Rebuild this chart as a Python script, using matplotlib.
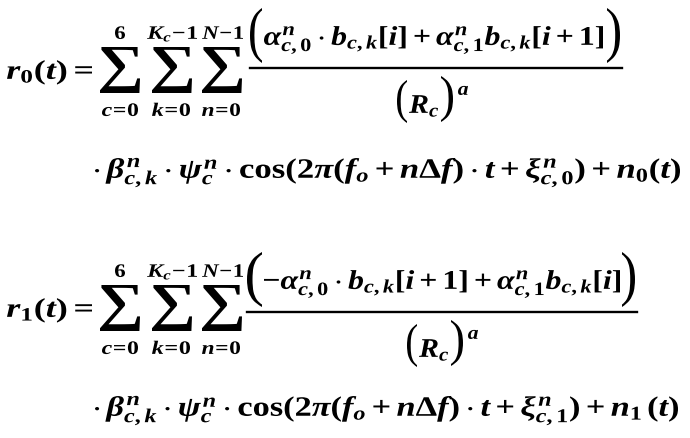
import matplotlib
matplotlib.use('Agg')
import matplotlib.pyplot as plt
from matplotlib.textpath import TextPath
from matplotlib.patches import PathPatch
from matplotlib.font_manager import FontProperties
from matplotlib.transforms import Affine2D
from matplotlib.lines import Line2D

plt.rcParams['mathtext.fontset'] = 'custom'
plt.rcParams['mathtext.rm'] = 'Liberation Serif:bold'
plt.rcParams['mathtext.it'] = 'Liberation Serif:italic:bold'
plt.rcParams['mathtext.bf'] = 'Liberation Serif:bold'
plt.rcParams['mathtext.fallback'] = 'stix'

W, H = 690, 438
lhs = [r'$r_0(t)=$', r'$r_1(t)=$']
upper = [r'$6$', r'$K_c\!-\!1$', r'$N\!-\!1$']
lower = [r'$c\!=\!0$', r'$k\!=\!0$', r'$n\!=\!0$']
numer = [r'$\alpha^n_{c,0}\cdot b_{c,k}[i]+\alpha^n_{c,1}b_{c,k}[i+1]$',
         r'$-\alpha^n_{c,0}\cdot b_{c,k}[i+1]+\alpha^n_{c,1}b_{c,k}[i]$']
denom = r'$R_c$'
power = r'$a$'
tail = [r'$\cdot\,\beta^n_{c,k}\cdot\psi^n_c\cdot\cos(2\pi(f_o+n\Delta f)\cdot t+\xi^n_{c,0})+n_0(t)$',
        r'$\cdot\,\beta^n_{c,k}\cdot\psi^n_c\cdot\cos(2\pi(f_o+n\Delta f)\cdot t+\xi^n_{c,1})+n_1\,(t)$']

fig = plt.figure(figsize=(6.9, 4.38), dpi=100)
fig.patch.set_facecolor('white')
# pixel coords, y from top
pix = Affine2D().scale(1.0 / W, -1.0 / H).translate(0, 1) + fig.transFigure
fp = FontProperties(family='Liberation Serif', weight='bold')
fp_reg = FontProperties(family='Liberation Serif')


def put(s, x0, x1, y, size):
    # text stretched to span x0..x1 on baseline y
    tp = TextPath((0, 0), s, size=size, prop=fp)
    ext = tp.get_extents()
    sx = (x1 - x0) / ext.width
    tr = Affine2D().translate(-ext.x0, 0).scale(sx, -1).translate(x0, y) + pix
    fig.add_artist(PathPatch(tp, transform=tr, fc='black', ec='none'))


def fit(s, x0, x1, y0, y1, prop):
    tp = TextPath((0, 0), s, size=50, prop=prop)
    ext = tp.get_extents()
    sx = (x1 - x0) / ext.width
    sy = (y1 - y0) / ext.height
    tr = (Affine2D().translate(-ext.x0, -ext.y1).scale(sx, -sy)
          .translate(x0, y0) + pix)
    fig.add_artist(PathPatch(tp, transform=tr, fc='black', ec='none'))


S = 27
s_small = 19
sum_x = [(100, 140), (152, 192), (202, 242)]
up_x = [(115, 125), (147, 197), (202, 243)]
low_x = [(102, 138), (152, 190), (202, 240)]
num_l = [(250, 262), (247, 262)]
num_txt = [(264, 603), (264, 620)]
num_r = [(607, 620), (622, 635)]
bar_x = [(250, 622), (247, 637)]
den_shift = [0, 10]
tail_x = [(95, 680), (95, 678)]

for j in range(2):
    d = 238 * j
    f = 244 * j
    put(lhs[j], 7, 92, 79 + d, S)
    for k in range(3):
        fit(r'$\sum$', sum_x[k][0], sum_x[k][1], 47 + d, 93 + d, fp)
        put(upper[k], up_x[k][0], up_x[k][1], 39 + d, s_small)
        put(lower[k], low_x[k][0], low_x[k][1], 116 + d, s_small)
    # numerator with tall parentheses
    fit('(', num_l[j][0], num_l[j][1], 8 + f, 63 + f, fp_reg)
    put(numer[j], num_txt[j][0], num_txt[j][1], 45 + f, S)
    fit(')', num_r[j][0], num_r[j][1], 8 + f, 63 + f, fp_reg)
    fig.add_artist(Line2D(bar_x[j], [68 + f, 68 + f],
                          transform=pix, color='black', lw=1.7))
    # denominator
    g = den_shift[j]
    fit('(', 397 + g, 407 + g, 80 + f, 123 + f, fp_reg)
    put(denom, 409 + g, 438 + g, 113 + f, S)
    fit(')', 441 + g, 453 + g, 76 + f, 122 + f, fp_reg)
    put(power, 458 + g, 468 + g, 95 + f, s_small)
    put(tail[j], tail_x[j][0], tail_x[j][1], 178 + d, 28)

fig.savefig('out.png', dpi=100, facecolor='white')
